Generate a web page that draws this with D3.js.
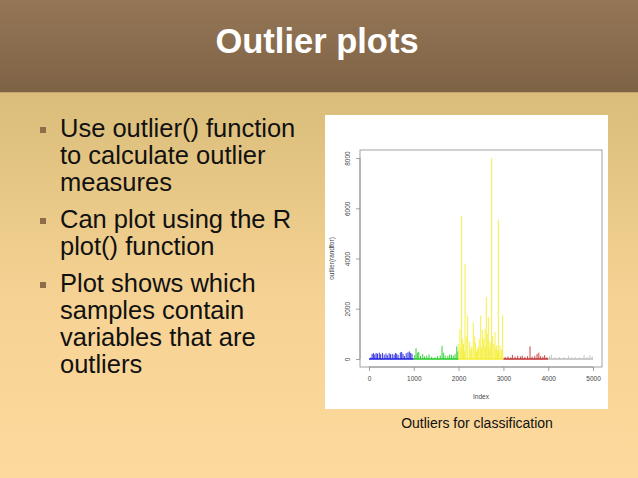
<!DOCTYPE html>
<html>
<head>
<meta charset="utf-8">
<script src="https://cdnjs.cloudflare.com/ajax/libs/d3/7.8.5/d3.min.js"></script>
<style>
  html, body { margin: 0; padding: 0; background: #fdd89c; }
  svg { display: block; }
  text { font-family: "Liberation Sans", Arial, sans-serif; }
</style>
</head>
<body>
<div id="slide"></div>
<script>
var TITLE = "Outlier plots",
CAPTION = "Outliers for classification",
BULLETS = [
  ["Use outlier() function", "to calculate outlier", "measures"],
  ["Can plot using the R", "plot() function"],
  ["Plot shows which", "samples contain", "variables that are", "outliers"]
];

// outlier scores, [index, value]
var groupStarts = [0, 1000, 2000, 3000, 4000];
var blueSpikes = [[40,60],[70,200],[100,230],[130,180],[160,240],[190,210],[230,250],[260,190],[300,240],[340,170],[380,220],[410,150],[450,230],[480,190],[520,200],[560,170],[590,240],[620,210],[650,160],[700,260],[730,280],[760,200],[790,120],[830,230],[870,260],[900,300],[930,240],[960,200]];
var greenSpikes = [[1020,150],[1050,430],[1080,250],[1110,280],[1150,120],[1200,200],[1240,100],[1290,130],[1340,180],[1400,90],[1470,70],[1530,110],[1590,140],[1630,520],[1660,250],[1700,150],[1760,120],[1800,180],[1840,160],[1880,130],[1920,200],[1960,500],[1985,300]];
var yellowSpikes = [[2005,600],[2030,1200],[2050,400],[2068,5700],[2090,800],[2110,600],[2130,300],[2143,3800],[2170,900],[2202,1730],[2240,700],[2260,350],[2280,500],[2300,450],[2329,1450],[2360,900],[2381,650],[2400,300],[2420,400],[2440,500],[2460,800],[2493,1730],[2510,450],[2530,1150],[2560,800],[2589,1200],[2600,500],[2619,2470],[2640,1000],[2664,1660],[2680,400],[2700,700],[2720,600],[2738,8000],[2760,900],[2790,600],[2812,1060],[2830,450],[2850,550],[2870,350],[2887,5550],[2900,300],[2924,550],[2950,400],[2970,250],[2984,1730]];
var redSpikes = [[3040,80],[3100,100],[3160,60],[3200,160],[3260,90],[3320,120],[3380,100],[3420,130],[3480,80],[3540,110],[3594,500],[3640,90],[3700,120],[3750,200],[3790,250],[3830,110],[3880,90],[3920,150],[3970,70]];
var graySpikes = [[4030,120],[4070,160],[4150,60],[4250,80],[4350,70],[4450,130],[4520,60],[4600,70],[4700,60],[4800,150],[4870,70],[4930,150],[4980,100]];
var xTicks = [0, 1000, 2000, 3000, 4000, 5000],
yTicks = [0, 2000, 4000, 6000, 8000];
var X_LABEL = "Index", Y_LABEL = "outlier(randfor)";

var COLORS = ["#1e1ee0", "#22cc22", "#f4ee30", "#c03030", "#bdbdbd"];
var ALL = [blueSpikes, greenSpikes, yellowSpikes, redSpikes, graySpikes];

var W = 638, H = 478;
var svg = d3.select("#slide").append("svg")
  .attr("width", W)
  .attr("height", H);

var defs = svg.append("defs");
var hg = defs.append("linearGradient").attr("id", "head").attr("x1", 0).attr("y1", 0).attr("x2", 0).attr("y2", 1);
hg.append("stop").attr("offset", "0%").attr("stop-color", "#957757");
hg.append("stop").attr("offset", "100%").attr("stop-color", "#7e6245");
var bg = defs.append("linearGradient").attr("id", "body").attr("x1", 0).attr("y1", 0).attr("x2", 0).attr("y2", 1);
bg.append("stop").attr("offset", "0%").attr("stop-color", "#dabd7a");
bg.append("stop").attr("offset", "55%").attr("stop-color", "#f6d394");
bg.append("stop").attr("offset", "100%").attr("stop-color", "#fdd99d");

// background + header band
svg.append("rect").attr("x", 0).attr("y", 92).attr("width", W).attr("height", H - 92).attr("fill", "url(#body)");
svg.append("rect").attr("x", 0).attr("y", 0).attr("width", W).attr("height", 92).attr("fill", "url(#head)");
svg.append("rect").attr("x", 0).attr("y", 92).attr("width", W).attr("height", 1).attr("fill", "#c2a570");

svg.append("text")
  .attr("x", 317)
  .attr("y", 53)
  .attr("text-anchor", "middle")
  .attr("fill", "#fff")
  .attr("font-weight", "bold")
  .attr("font-size", 34.5)
  .text(TITLE);

// bullet list
var lineH = 27, y0 = 137;
var ly = y0;
BULLETS.forEach(function(b, i) {
  if (i > 0) ly += 10;
  svg.append("rect")
    .attr("x", 40).attr("y", ly - 10)
    .attr("width", 6).attr("height", 6)
    .attr("fill", "#8d6d4a");
  b.forEach(function(line) {
    svg.append("text")
      .attr("x", 60)
      .attr("y", ly)
      .attr("font-size", 25.5)
      .attr("fill", "#111")
      .text(line);
    ly += lineH;
  });
});

// white picture panel with the R plot
svg.append("rect").attr("x", 325).attr("y", 115).attr("width", 283).attr("height", 294).attr("fill", "#fff");

var x = d3.scaleLinear().domain([-200, 5200]).range([360, 602]);
var y = d3.scaleLinear().domain([-320, 8320]).range([367, 150]);

var plot = svg.append("g");

ALL.forEach(function(spikes, gi) {
  var start = groupStarts[gi];
  plot.append("line")
    .attr("x1", x(start + 1)).attr("x2", x(start + 999))
    .attr("y1", y(0)).attr("y2", y(0))
    .attr("stroke", COLORS[gi])
    .attr("stroke-width", 1.6);
  plot.selectAll(null)
    .data(spikes)
    .enter().append("line")
    .attr("x1", function(d) { return x(d[0]); })
    .attr("x2", function(d) { return x(d[0]); })
    .attr("y1", y(0))
    .attr("y2", function(d) { return y(d[1]); })
    .attr("stroke", COLORS[gi])
    .attr("stroke-width", 0.9);
});

plot.append("rect")
  .attr("x", 360).attr("y", 150)
  .attr("width", 242).attr("height", 217)
  .attr("fill", "none")
  .attr("stroke", "#8a8a8a")
  .attr("stroke-width", 0.8);

var fmt = d3.format("d");
var xAxis = svg.append("g")
  .attr("transform", "translate(0,367)")
  .call(d3.axisBottom(x).tickValues(xTicks).tickFormat(fmt).tickSize(4).tickPadding(5));
var yAxis = svg.append("g")
  .attr("transform", "translate(360,0)")
  .call(d3.axisLeft(y).tickValues(yTicks).tickFormat(fmt).tickSize(4).tickPadding(5));

[xAxis, yAxis].forEach(function(a) {
  a.select(".domain").attr("stroke", "#8a8a8a").attr("stroke-width", 0.8)
    .attr("d", a === xAxis ? "M" + x(0) + ",0H" + x(5000) : "M0," + y(0) + "V" + y(8000));
  a.selectAll(".tick line").attr("stroke", "#8a8a8a").attr("stroke-width", 0.8);
  a.selectAll(".tick text").attr("fill", "#444").attr("font-size", 6.5)
    .attr("font-family", "Liberation Sans, Arial, sans-serif");
});
yAxis.selectAll(".tick text")
  .attr("x", null).attr("dy", null)
  .attr("text-anchor", "middle")
  .attr("transform", "translate(-10,0) rotate(-90)");

svg.append("text")
  .attr("x", x(2500)).attr("y", 399)
  .attr("text-anchor", "middle")
  .attr("font-size", 6.5).attr("fill", "#444")
  .text(X_LABEL);
svg.append("text")
  .attr("transform", "translate(334," + y(4000) + ") rotate(-90)")
  .attr("text-anchor", "middle")
  .attr("font-size", 6.5).attr("fill", "#444")
  .text(Y_LABEL);

svg.append("text")
  .attr("x", 477).attr("y", 428)
  .attr("text-anchor", "middle")
  .attr("font-size", 14).attr("fill", "#111")
  .text(CAPTION);
</script>
</body>
</html>
